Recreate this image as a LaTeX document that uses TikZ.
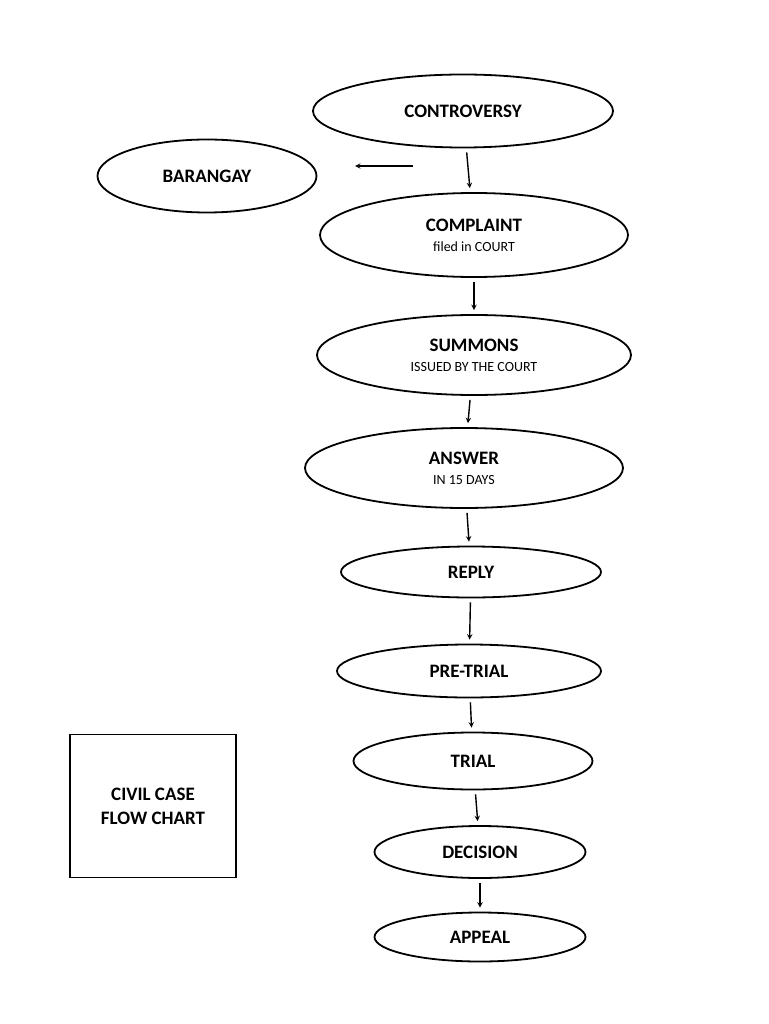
\documentclass[tikz,border=0pt]{standalone}
\usepackage{fontspec}
\setmainfont{Carlito}
\usetikzlibrary{shapes.geometric, positioning}

\begin{document}
\begin{tikzpicture}[
    x = 1pt, y = -1pt, > = stealth,
    stage/.style = {
      ellipse, draw, line width = 1.8pt, inner sep = 0pt, align = center,
      font = \fontsize{19}{22}\selectfont\bfseries
    },
    sub/.style = {font = \fontsize{14}{16}\selectfont\mdseries},
    flow/.style = {
      ->, line width = 1.4pt, shorten < = 4pt, shorten > = 4pt
    },
    ]
\useasboundingbox (0,0) rectangle (768,1024);
\node  [stage, minimum width = 300, minimum height = 73]  (controversy)  at (463,111)  {CONTROVERSY};
\node  [stage, minimum width = 219, minimum height = 73]  (barangay)  at (207,176)  {BARANGAY};
\node  [stage, minimum width = 308, minimum height = 84]  (complaint)  at (474,235)  {COMPLAINT\\[-2pt]{\fontsize{14}{16}\selectfont\mdseries filed in COURT}};
\node  [stage, minimum width = 314, minimum height = 80]  (summons)  at (474,355)  {SUMMONS\\[-2pt]{\fontsize{14}{16}\selectfont\mdseries ISSUED BY THE COURT}};
\node  [stage, minimum width = 318, minimum height = 80]  (answer)  at (464,468)  {ANSWER\\[-2pt]{\fontsize{14}{16}\selectfont\mdseries IN 15 DAYS}};
\node  [stage, minimum width = 260, minimum height = 51]  (reply)  at (471,572)  {REPLY};
\node  [stage, minimum width = 264, minimum height = 53]  (pretrial)  at (469,671)  {PRE-TRIAL};
\node  [stage, minimum width = 239, minimum height = 57]  (trial)  at (473,761)  {TRIAL};
\node  [stage, minimum width = 211, minimum height = 52]  (decision)  at (480,852)  {DECISION};
\node  [stage, minimum width = 211, minimum height = 49]  (appeal)  at (480,937)  {APPEAL};
\node  [draw, line width = 1.8pt, minimum width = 166, minimum height = 143, align = center,
        font = \fontsize{19}{24}\selectfont\bfseries]  (title)  at (153,806)  {CIVIL CASE\\FLOW CHART};

% arrow pointing to barangay
\coordinate  (bar_from)  at (413,166);
\coordinate  (bar_to)  at (355,166);
\draw  [->, line width = 1.4pt]  (bar_from)  --  (bar_to);

\draw  [flow]  (controversy)  --  (complaint);
\draw  [flow]  (complaint)  --  (summons);
\draw  [flow]  (summons)  --  (answer);
\draw  [flow]  (answer)  --  (reply);
\draw  [flow]  (reply)  --  (pretrial);
\draw  [flow]  (pretrial)  --  (trial);
\draw  [flow]  (trial)  --  (decision);
\draw  [flow]  (decision)  --  (appeal);

\end{tikzpicture}
\end{document}
